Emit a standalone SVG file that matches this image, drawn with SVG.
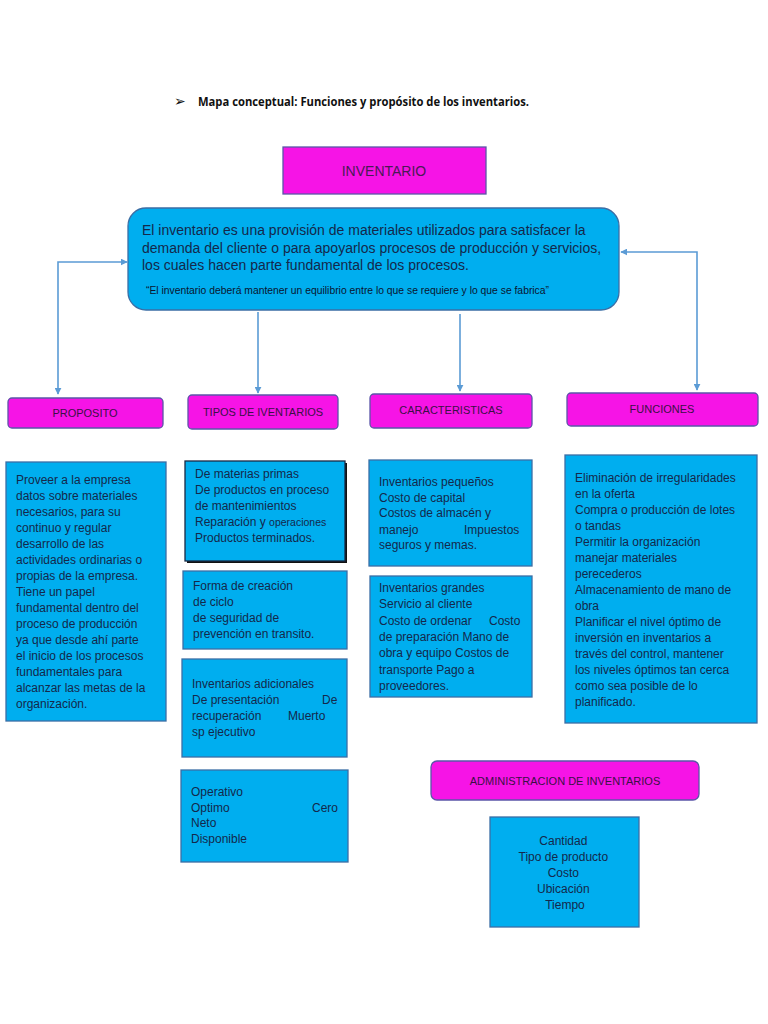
<svg xmlns="http://www.w3.org/2000/svg" width="768" height="1024" viewBox="0 0 768 1024">
<defs>
<style>
.mag{fill:#f614e6;stroke:#5b55a8;stroke-width:1.3}
.blue{fill:#00aeef;stroke:#3b6ea5;stroke-width:1.3}
.hl{font-family:"Liberation Sans",Arial,sans-serif;font-size:11px;fill:#3a1045;text-anchor:middle}
.t{font-family:"Liberation Sans",Arial,sans-serif;font-size:12px;fill:#14284b}
.conn{fill:none;stroke:#5b9bd5;stroke-width:1.6}
</style>
<marker id="ah" viewBox="0 0 10 10" refX="9" refY="5" markerWidth="7" markerHeight="7" orient="auto-start-reverse" markerUnits="userSpaceOnUse">
<path d="M0,0 L10,5 L0,10 z" fill="#5b9bd5"/>
</marker>
</defs>
<rect width="768" height="1024" fill="#ffffff"/>

<g id="title">
<text x="174" y="106" font-family="DejaVu Sans,sans-serif" font-size="14" fill="#111">➢</text>
<text x="198" y="106" font-family="Open Sans,Liberation Sans,sans-serif" font-size="13" font-weight="bold" fill="#111" textLength="331" lengthAdjust="spacingAndGlyphs">Mapa conceptual: Funciones y propósito de los inventarios.</text>
</g>

<g id="connectors">
<path class="conn" d="M58,394 L58,262 L127,262" marker-start="url(#ah)" marker-end="url(#ah)"/>
<path class="conn" d="M258,312 L258,393" marker-end="url(#ah)"/>
<path class="conn" d="M460,314 L460,391" marker-end="url(#ah)"/>
<path class="conn" d="M621,252 L697,252 L697,390" marker-start="url(#ah)" marker-end="url(#ah)"/>
</g>

<g id="inventario">
<rect class="mag" x="283" y="147" width="203" height="47"/>
<text x="384" y="176" font-family="Liberation Sans,Arial,sans-serif" font-size="14" fill="#4a1a55" text-anchor="middle">INVENTARIO</text>
</g>

<g id="definicion">
<rect class="blue" x="128" y="208" width="491" height="102" rx="18"/>
<text font-family="Liberation Sans,Arial,sans-serif" font-size="14" fill="#14284b">
<tspan x="142" y="235">El inventario es una provisión de materiales utilizados para satisfacer la</tspan>
<tspan x="142" y="253">demanda del cliente o para apoyarlos procesos de producción y servicios,</tspan>
<tspan x="142" y="270">los cuales hacen parte fundamental de los procesos.</tspan>
</text>
<text x="146" y="294" font-family="Liberation Sans,Arial,sans-serif" font-size="10" fill="#0a1530" textLength="403" lengthAdjust="spacingAndGlyphs">“El inventario deberá mantener un equilibrio entre lo que se requiere y lo que se fabrica”</text>
</g>

<g id="proposito">
<rect class="mag" x="8" y="398" width="155" height="30" rx="4"/>
<text class="hl" x="85" y="417">PROPOSITO</text>
</g>
<g id="tipos">
<rect class="mag" x="188" y="395" width="150" height="34" rx="4"/>
<text class="hl" x="263" y="416">TIPOS DE IVENTARIOS</text>
</g>
<g id="caracteristicas">
<rect class="mag" x="370" y="394" width="162" height="34" rx="4"/>
<text class="hl" x="451" y="414">CARACTERISTICAS</text>
</g>
<g id="funciones">
<rect class="mag" x="567" y="393" width="191" height="33" rx="4"/>
<text class="hl" x="662" y="413">FUNCIONES</text>
</g>

<g id="proposito-texto">
<rect class="blue" x="6" y="462" width="160" height="259"/>
<text class="t">
<tspan x="16" y="484">Proveer a la empresa</tspan>
<tspan x="16" y="500">datos sobre materiales</tspan>
<tspan x="16" y="516">necesarios, para su</tspan>
<tspan x="16" y="532">continuo y regular</tspan>
<tspan x="16" y="548">desarrollo de las</tspan>
<tspan x="16" y="564">actividades ordinarias o</tspan>
<tspan x="16" y="580">propias de la empresa.</tspan>
<tspan x="16" y="596">Tiene un papel</tspan>
<tspan x="16" y="612">fundamental dentro del</tspan>
<tspan x="16" y="628">proceso de producción</tspan>
<tspan x="16" y="644">ya que desde ahí parte</tspan>
<tspan x="16" y="660">el inicio de los procesos</tspan>
<tspan x="16" y="676">fundamentales para</tspan>
<tspan x="16" y="692">alcanzar las metas de la</tspan>
<tspan x="16" y="708">organización.</tspan>
</text>
</g>

<g id="tipos-1">
<rect x="187" y="463" width="160" height="100" fill="#111"/>
<rect x="185" y="461" width="160" height="100" fill="#00aeef" stroke="#1a2a45" stroke-width="1.3"/>
<text class="t">
<tspan x="195" y="478">De materias primas</tspan>
<tspan x="195" y="494">De productos en proceso</tspan>
<tspan x="195" y="510">de mantenimientos</tspan>
<tspan x="195" y="526">Reparación y <tspan font-size="10.5">operaciones</tspan></tspan>
<tspan x="195" y="542">Productos terminados.</tspan>
</text>
</g>
<g id="tipos-2">
<rect class="blue" x="183" y="571" width="164" height="78"/>
<text class="t">
<tspan x="193" y="590">Forma de creación</tspan>
<tspan x="193" y="606">de ciclo</tspan>
<tspan x="193" y="622">de seguridad de</tspan>
<tspan x="193" y="638">prevención en transito.</tspan>
</text>
</g>
<g id="tipos-3">
<rect class="blue" x="182" y="659" width="165" height="98"/>
<text class="t">
<tspan x="192" y="688">Inventarios adicionales</tspan>
<tspan x="192" y="704">De presentación</tspan><tspan x="322" y="704">De</tspan>
<tspan x="192" y="720">recuperación</tspan><tspan x="288" y="720">Muerto</tspan>
<tspan x="192" y="736">sp ejecutivo</tspan>
</text>
</g>
<g id="tipos-4">
<rect class="blue" x="181" y="770" width="167" height="92"/>
<text class="t">
<tspan x="191" y="796">Operativo</tspan>
<tspan x="191" y="812">Optimo</tspan><tspan x="312" y="812">Cero</tspan>
<tspan x="191" y="827">Neto</tspan>
<tspan x="191" y="843">Disponible</tspan>
</text>
</g>

<g id="caracteristicas-1">
<rect class="blue" x="369" y="460" width="163" height="106"/>
<text class="t">
<tspan x="379" y="486">Inventarios pequeños</tspan>
<tspan x="379" y="502">Costo de capital</tspan>
<tspan x="379" y="517">Costos de almacén y</tspan>
<tspan x="379" y="534">manejo</tspan><tspan x="464" y="534">Impuestos</tspan>
<tspan x="379" y="549">seguros y memas.</tspan>
</text>
</g>
<g id="caracteristicas-2">
<rect class="blue" x="370" y="576" width="162" height="121"/>
<text class="t">
<tspan x="379" y="592">Inventarios grandes</tspan>
<tspan x="379" y="608">Servicio al cliente</tspan>
<tspan x="379" y="625">Costo de ordenar</tspan><tspan x="489" y="625">Costo</tspan>
<tspan x="379" y="641">de preparación Mano de</tspan>
<tspan x="379" y="657">obra y equipo Costos de</tspan>
<tspan x="379" y="674">transporte Pago a</tspan>
<tspan x="379" y="690">proveedores.</tspan>
</text>
</g>

<g id="funciones-texto">
<rect class="blue" x="565" y="455" width="192" height="268"/>
<text class="t">
<tspan x="575" y="482">Eliminación de irregularidades</tspan>
<tspan x="575" y="498">en la oferta</tspan>
<tspan x="575" y="514">Compra o producción de lotes</tspan>
<tspan x="575" y="530">o tandas</tspan>
<tspan x="575" y="546">Permitir la organización</tspan>
<tspan x="575" y="562">manejar materiales</tspan>
<tspan x="575" y="578">perecederos</tspan>
<tspan x="575" y="594">Almacenamiento de mano de</tspan>
<tspan x="575" y="610">obra</tspan>
<tspan x="575" y="626">Planificar el nivel óptimo de</tspan>
<tspan x="575" y="642">inversión en inventarios a</tspan>
<tspan x="575" y="658">través del control, mantener</tspan>
<tspan x="575" y="674">los niveles óptimos tan cerca</tspan>
<tspan x="575" y="690">como sea posible de lo</tspan>
<tspan x="575" y="706">planificado.</tspan>
</text>
</g>

<g id="administracion">
<rect class="mag" x="431" y="761" width="268" height="39" rx="6"/>
<text class="hl" x="565" y="785">ADMINISTRACION DE INVENTARIOS</text>
</g>
<g id="administracion-texto">
<rect class="blue" x="490" y="817" width="149" height="110"/>
<text class="t" text-anchor="middle">
<tspan x="565" y="845">Cantidad</tspan>
<tspan x="565" y="861">Tipo de producto</tspan>
<tspan x="565" y="877">Costo</tspan>
<tspan x="565" y="893">Ubicación</tspan>
<tspan x="565" y="909">Tiempo</tspan>
</text>
</g>
</svg>
